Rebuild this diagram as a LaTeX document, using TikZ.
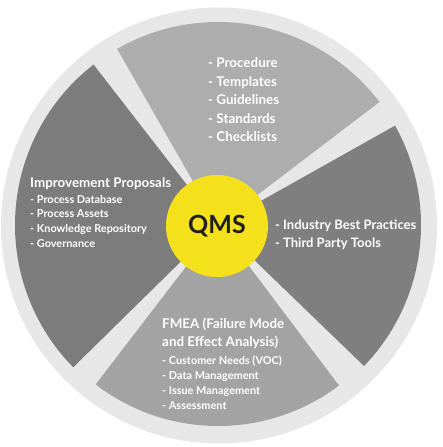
\documentclass[tikz,border=0pt]{standalone}
\usepackage{fontspec}
\setmainfont{Lato}
\definecolor{qmsring}{HTML}{E7E7E7}
\definecolor{qmstop}{HTML}{ADADAD}
\definecolor{qmsleft}{HTML}{7C7C7C}
\definecolor{qmsright}{HTML}{7F7F7F}
\definecolor{qmsbottom}{HTML}{A3A3A3}
\definecolor{qmsyellow}{HTML}{F5E11B}
\definecolor{qmsdark}{HTML}{1F1F1F}
\tikzstyle{headtxt}=[text=white,anchor=base west,inner sep=0pt,
  font=\bfseries\fontsize{13.4}{16}\selectfont]
\tikzstyle{subtxt}=[text=white,anchor=base west,inner sep=0pt,
  font=\bfseries\fontsize{10.9}{12}\selectfont]
\tikzstyle{hubnode}=[circle,fill=qmsyellow,minimum size=102pt,inner sep=0pt,
  text=qmsdark,font=\bfseries\fontsize{25}{28}\selectfont]

\begin{document}
\begin{tikzpicture}[x=1pt,y=1pt]
    \useasboundingbox (-218,-222) rectangle (224,225);
    \fill[white] (-218,-222) rectangle (224,225);
    % ---- outer ring ----
    \fill[qmsring] (1,-0.5) circle (218pt);

    % ---- four wedges ----
    \fill[qmstop]    (0,0) -- (37.3:203) arc[start angle=37.3,end angle=119.8,radius=203pt] -- cycle;
    \fill[qmsleft]   (0,0) -- (127.8:203) arc[start angle=127.8,end angle=224.5,radius=203pt] -- cycle;
    \fill[qmsright]  (0,0) -- (-44:203) arc[start angle=-44,end angle=29.3,radius=203pt] -- cycle;
    \fill[qmsbottom] (0,0) -- (-127.5:201) arc[start angle=-127.5,end angle=-53,radius=201pt] -- cycle;

    % ---- hub ----
    \node[hubnode] (hub) at (-1,-1) {QMS};

    % top wedge
    \foreach \t [count=\i] in {Procedure,Templates,Guidelines,Standards,Checklists}
      {\node[headtxt] (tp\i) at (-10,175.5-18.5*\i) {- \t};}
    % left wedge
    \node[headtxt] (lhead) at (-188,37) {Improvement Proposals};
    \foreach \t [count=\i] in {Process Database,Process Assets,Knowledge Repository,Governance}
      {\node[subtxt] (lf\i) at (-188,36.5-14.7*\i) {- \t};}
    % right wedge
    \node[headtxt,font=\bfseries\fontsize{13}{16}\selectfont] (rt1) at (57,-5) {- Industry Best Practices};
    \node[headtxt,font=\bfseries\fontsize{13}{16}\selectfont] (rt2) at (57,-23) {- Third Party Tools};
    % bottom wedge
    \node[headtxt] (bhead1) at (-56,-103) {FMEA (Failure Mode};
    \node[headtxt] (bhead2) at (-56,-121) {and Effect Analysis)};
    \foreach \t [count=\i] in {Customer Needs (VOC),Data Management,Issue Management,Assessment}
      {\node[subtxt] (bt\i) at (-56,-124-15*\i) {- \t};}
  \end{tikzpicture}
\end{document}
